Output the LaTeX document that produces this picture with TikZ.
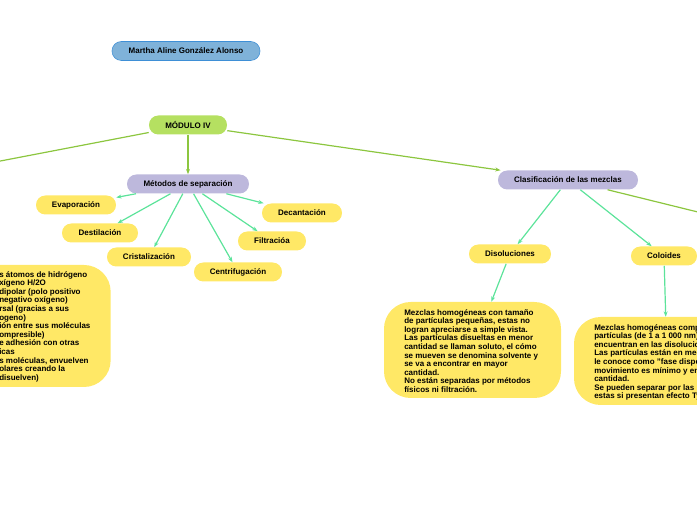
\documentclass[tikz,border=0pt]{standalone}
\usepackage{fontspec}
\setmainfont{Liberation Sans}
\usetikzlibrary{arrows.meta}
\definecolor{Yel}{HTML}{FFE866}
\definecolor{Lav}{HTML}{BDB8DC}
\definecolor{G1}{HTML}{8CC63F}
\definecolor{G2}{HTML}{5CE39A}
\definecolor{Blu}{HTML}{7FB2D9}
\definecolor{BluB}{HTML}{3E8FD6}
\definecolor{Grn}{HTML}{B5E061}
\begin{document}
\begin{tikzpicture}[x=0.75pt,y=-0.75pt,
 txt/.style={font=\bfseries\fontsize{6}{6.45}\selectfont},
 pill/.style={txt,rounded corners=7pt,minimum height=14.25pt,inner sep=0pt,align=center},
 yel/.style={pill,fill=Yel},
 lav/.style={pill,fill=Lav},
 big/.style={txt,fill=Yel,rounded corners=20pt,align=left,inner sep=0pt},
 g1/.style={draw=G1,line width=0.9pt,-{Stealth[length=4pt]}},
 g2/.style={draw=G2,line width=0.9pt,-{Stealth[length=4pt]}}]
\useasboundingbox (0,0) rectangle (697,520);
\clip (0,0) rectangle (697,520);
\node[pill,draw=BluB,fill=Blu,minimum width=111pt] (mar) at (186,51) {Martha Aline González Alonso};
\node[pill,fill=Grn,minimum width=58.5pt] (mod) at (188,125) {MÓDULO IV};
\node[lav,minimum width=91.5pt] (met) at (188,184) {Métodos de separación};
\node[lav,minimum width=105pt] (cla) at (568,180) {Clasificación de las mezclas};
\node[yel,minimum width=60pt] (eva) at (76,205) {Evaporación};
\node[yel,minimum width=57pt] (des) at (100,233) {Destilación};
\node[yel,minimum width=63pt] (cri) at (149,257) {Cristalización};
\node[yel,minimum width=66pt] (cen) at (238,272) {Centrifugación};
\node[yel,minimum width=51pt] (fil) at (272,241) {Filtracióa};
\node[yel,minimum width=60pt] (dec) at (302,213) {Decantación};
\node[yel,minimum width=61.5pt] (dis) at (510,254) {Disoluciones};
\node[yel,minimum width=49.5pt] (col) at (664,256) {Coloides};
\node[big,minimum width=196pt,minimum height=91.5pt] (lb) at (-20,326) {};
\node[txt,anchor=north west,align=left,inner sep=0pt] at (-1,271) {s átomos de hidrógeno\\xígeno H/2O\\ dipolar (polo positivo\\negativo oxígeno)\\rsal (gracias a sus\\ogeno)\\ión entre sus moléculas\\ompresible)\\e adhesión con otras\\icas\\s moléculas, envuelven\\olares creando la\\disuelven)};
\node[big,minimum width=132.75pt,minimum height=72pt] (db) at (472.5,350) {};
\node[txt,anchor=north west,align=left,inner sep=0pt] at (404,309) {Mezclas homogéneas con tamaño\\de partículas pequeñas, estas no\\logran apreciarse a simple vista.\\Las partículas disueltas en menor\\cantidad se llaman soluto, el cómo\\se mueven se denomina solvente y\\se va a encontrar en mayor\\cantidad.\\No están separadas por métodos\\físicos ni filtración.};
\node[big,minimum width=139.5pt,minimum height=66pt] (cb) at (667,361) {};
\node[txt,anchor=north west,align=left,inner sep=0pt] at (594,324) {Mezclas homogéneas compuestas de\\partículas (de 1 a 1 000 nm) que se\\encuentran en las disoluciones.\\Las partículas están en medio y se\\le conoce como "fase dispersa", su\\movimiento es mínimo y en mayor\\cantidad.\\Se pueden separar por las membranas\\estas si presentan efecto Tyndall.};
\coordinate (lo) at (-10,163);
\coordinate (ro) at (710,215);
\draw[g1] (mod) -- (lo);
\draw[g1] (mod) -- (met);
\draw[g1] (mod) -- (cla);
\draw[g1] (cla) -- (ro);
\draw[g2] (met) -- (eva);
\draw[g2] (met) -- (des);
\draw[g2] (met) -- (cri);
\draw[g2] (met) -- (cen);
\draw[g2] (met) -- (fil);
\draw[g2] (met) -- (dec);
\draw[g2] (cla) -- (dis);
\draw[g2] (cla) -- (col);
\draw[g2] (dis) -- (db);
\draw[g2] (col) -- (cb);
\end{tikzpicture}
\end{document}
